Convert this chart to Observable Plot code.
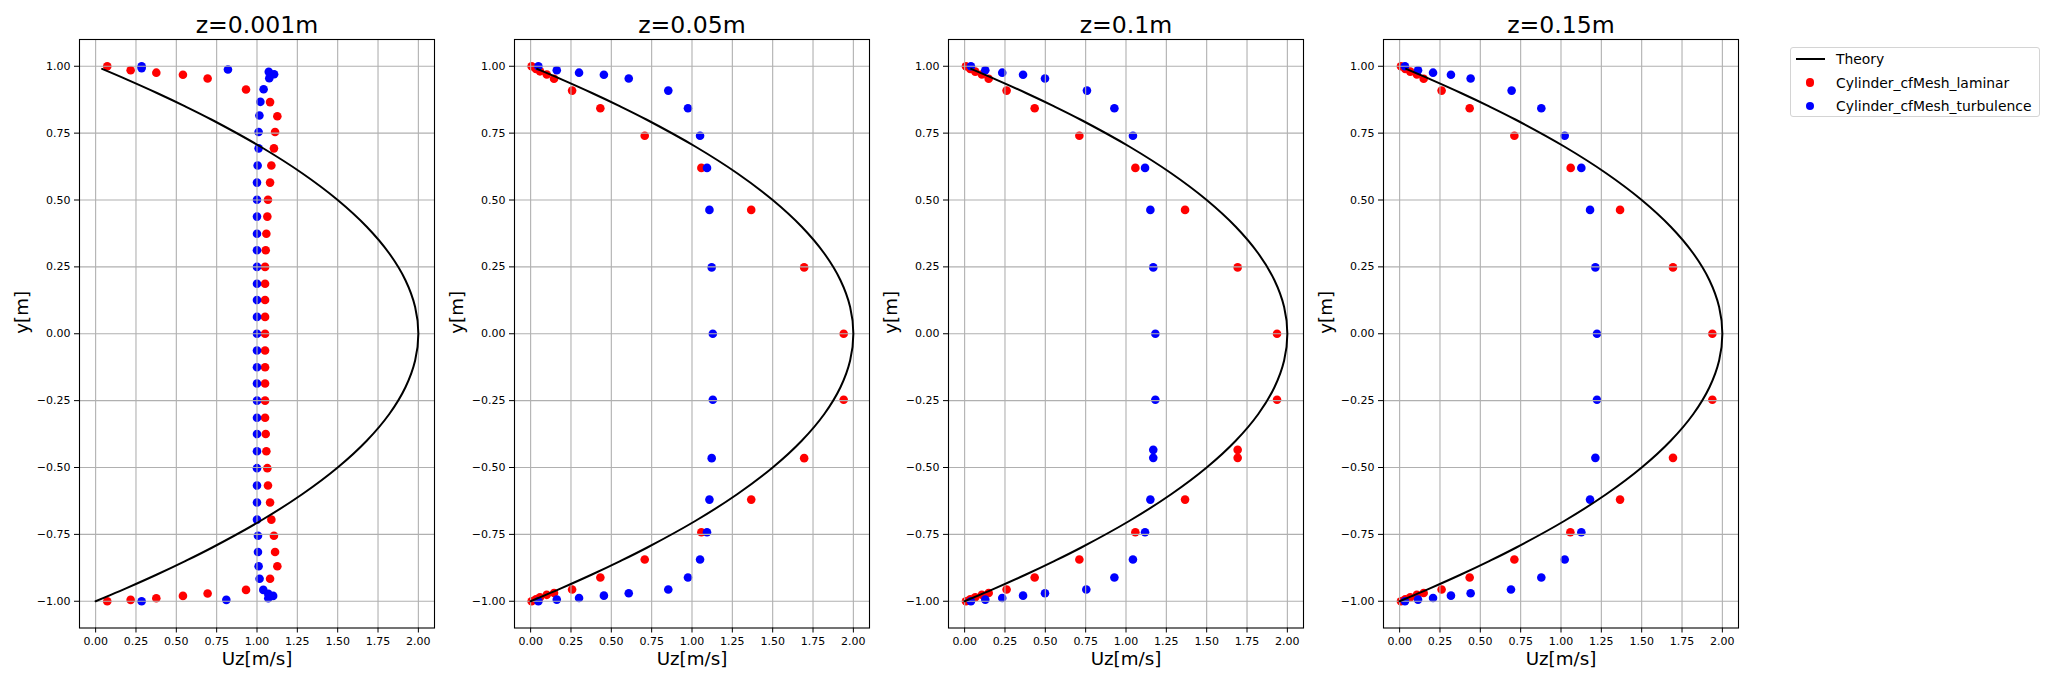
<!DOCTYPE html>
<html><head><meta charset="utf-8">
<script src="https://cdn.jsdelivr.net/npm/d3@7"></script>
<script src="https://cdn.jsdelivr.net/npm/@observablehq/plot@0.6"></script>
<style>
body{margin:0;background:#fff;}
#fig{position:relative;width:2048px;height:683px;font-family:"DejaVu Sans",sans-serif;background:#fff;overflow:hidden;}
.panel{position:absolute;top:0;}
#legend{position:absolute;left:1790px;top:47px;width:250px;height:70px;border:1px solid #d4d4d4;border-radius:3px;box-sizing:border-box;background:#fff;font-size:13.9px;color:#000;}
#legend .ln{position:absolute;left:5px;top:10px;width:29px;height:2px;background:#000;}
#legend .dt{position:absolute;width:8.6px;height:8.6px;border-radius:50%;left:14.7px;}
#legend .tx{position:absolute;left:45px;line-height:16px;white-space:nowrap;}
</style></head><body>
<div id="fig"></div>
<script>
const titles = ["z=0.001m", "z=0.05m", "z=0.1m", "z=0.15m"];
const seriesNames = ["Theory", "Cylinder_cfMesh_laminar", "Cylinder_cfMesh_turbulence"];
const xTicks = [0, 0.25, 0.5, 0.75, 1.0, 1.25, 1.5, 1.75, 2.0];
const yTicks = [-1.0, -0.75, -0.5, -0.25, 0, 0.25, 0.5, 0.75, 1.0];

// Theory profile
const theoryY = [-1, -0.98, -0.95, -0.9, -0.85, -0.8, -0.7, -0.6, -0.5, -0.4, -0.3, -0.2, -0.1, 0, 0.1, 0.2, 0.3, 0.4, 0.5, 0.6, 0.7, 0.8, 0.85, 0.9, 0.95, 0.99];
const theoryU = [0, 0.079, 0.195, 0.38, 0.555, 0.72, 1.02, 1.28, 1.5, 1.68, 1.82, 1.92, 1.98, 2.0, 1.98, 1.92, 1.82, 1.68, 1.5, 1.28, 1.02, 0.72, 0.555, 0.38, 0.195, 0.04];

// z = 0.001 m
const p1LamY = [1.0, 0.985, 0.976, 0.968, 0.954, 0.913, 0.866, 0.813, 0.754, 0.693, 0.629, 0.565, 0.501, 0.438, 0.374, 0.312, 0.25, 0.187, 0.126, 0.063, 0,
  -0.0625, -0.125, -0.186, -0.25, -0.314, -0.375, -0.439, -0.5025, -0.5675, -0.631, -0.695, -0.755, -0.816, -0.869, -0.916, -0.9575, -0.971, -0.98, -0.989, -0.995, -1.0];
const p1LamU = [0.072, 0.217, 0.376, 0.541, 0.694, 0.932, 1.081, 1.126, 1.112, 1.105, 1.089, 1.081, 1.068, 1.064, 1.058, 1.054, 1.05, 1.05, 1.05, 1.05, 1.05,
  1.05, 1.05, 1.05, 1.05, 1.05, 1.054, 1.058, 1.064, 1.068, 1.081, 1.089, 1.105, 1.112, 1.126, 1.081, 0.932, 0.694, 0.541, 0.376, 0.217, 0.072];
const p1TurY = [1.0, 0.993, 0.988, 0.979, 0.970, 0.955, 0.914, 0.867, 0.816, 0.754, 0.693, 0.629, 0.565, 0.501, 0.438, 0.374, 0.312, 0.25, 0.187, 0.126, 0.063, 0,
  -0.0625, -0.125, -0.186, -0.25, -0.314, -0.375, -0.439, -0.5025, -0.5675, -0.631, -0.695, -0.755, -0.816, -0.869, -0.916, -0.9575, -0.9725, -0.98, -0.989, -0.995, -1.0];
const p1TurU = [0.285, 0.285, 0.82, 1.073, 1.106, 1.076, 1.041, 1.021, 1.015, 1.010, 1.010, 1.004, 1.0, 1.0, 1.0, 1.0, 1.0, 1.0, 1.0, 1.0, 1.0, 1.0,
  1.0, 1.0, 1.0, 1.0, 1.0, 1.0, 1.0, 1.0, 1.0, 1.0, 1.0, 1.006, 1.006, 1.01, 1.016, 1.039, 1.07, 1.1, 1.07, 0.81, 0.285];

// z = 0.05 m
const p2LamY = [1.0, 0.99, 0.981, 0.969, 0.953, 0.909, 0.843, 0.74, 0.62, 0.463, 0.248, 0,
  -0.247, -0.465, -0.62, -0.742, -0.844, -0.911, -0.956, -0.969, -0.976, -0.985, -0.993, -1.0];
const p2LamU = [0.006, 0.033, 0.058, 0.1, 0.145, 0.257, 0.432, 0.707, 1.058, 1.367, 1.695, 1.94,
  1.94, 1.695, 1.367, 1.058, 0.707, 0.432, 0.257, 0.145, 0.1, 0.058, 0.033, 0.006];
const p2TurY = [1.0, 0.985, 0.976, 0.968, 0.954, 0.909, 0.843, 0.74, 0.62, 0.463, 0.248, 0,
  -0.247, -0.465, -0.62, -0.742, -0.844, -0.911, -0.956, -0.97, -0.979, -0.988, -0.994, -1.0];
const p2TurU = [0.048, 0.162, 0.30, 0.454, 0.608, 0.853, 0.975, 1.05, 1.093, 1.108, 1.122, 1.129,
  1.129, 1.122, 1.108, 1.093, 1.05, 0.975, 0.853, 0.608, 0.454, 0.30, 0.162, 0.048];

// z = 0.1 m
const p3LamY = [1.0, 0.99, 0.98, 0.969, 0.953, 0.909, 0.843, 0.74, 0.62, 0.463, 0.248, 0,
  -0.247, -0.434, -0.464, -0.62, -0.742, -0.844, -0.911, -0.956, -0.969, -0.976, -0.985, -0.993, -1.0];
const p3LamU = [0.008, 0.035, 0.066, 0.107, 0.149, 0.26, 0.434, 0.711, 1.058, 1.366, 1.692, 1.936,
  1.936, 1.692, 1.692, 1.366, 1.058, 0.711, 0.434, 0.26, 0.149, 0.107, 0.066, 0.035, 0.008];
const p3TurY = [1.0, 0.985, 0.976, 0.968, 0.954, 0.909, 0.843, 0.74, 0.62, 0.463, 0.248, 0,
  -0.247, -0.434, -0.464, -0.62, -0.742, -0.844, -0.911, -0.956, -0.97, -0.979, -0.988, -0.994, -1.0];
const p3TurU = [0.039, 0.128, 0.233, 0.362, 0.498, 0.758, 0.928, 1.043, 1.118, 1.151, 1.169, 1.182,
  1.182, 1.169, 1.169, 1.151, 1.118, 1.043, 0.928, 0.754, 0.498, 0.362, 0.233, 0.128, 0.039];

// z = 0.15 m
const p4LamY = [1.0, 0.99, 0.98, 0.969, 0.953, 0.909, 0.843, 0.74, 0.62, 0.463, 0.248, 0,
  -0.247, -0.464, -0.62, -0.742, -0.844, -0.911, -0.956, -0.969, -0.976, -0.985, -0.993, -1.0];
const p4LamU = [0.008, 0.035, 0.066, 0.107, 0.149, 0.26, 0.434, 0.711, 1.06, 1.366, 1.694, 1.938,
  1.938, 1.694, 1.366, 1.058, 0.711, 0.434, 0.26, 0.149, 0.107, 0.066, 0.035, 0.008];
const p4TurY = [1.0, 0.985, 0.976, 0.968, 0.954, 0.909, 0.843, 0.74, 0.62, 0.463, 0.248, 0,
  -0.247, -0.464, -0.62, -0.742, -0.844, -0.911, -0.956, -0.97, -0.979, -0.988, -0.994, -1.0];
const p4TurU = [0.033, 0.114, 0.207, 0.318, 0.44, 0.694, 0.878, 1.023, 1.126, 1.18, 1.213, 1.223,
  1.223, 1.213, 1.18, 1.126, 1.023, 0.878, 0.69, 0.44, 0.318, 0.207, 0.114, 0.033];

const colors = ["#000000", "#ff0000", "#0000ff"];

const panels = [
  {title: titles[0], lamY: p1LamY, lamU: p1LamU, turY: p1TurY, turU: p1TurU},
  {title: titles[1], lamY: p2LamY, lamU: p2LamU, turY: p2TurY, turU: p2TurU},
  {title: titles[2], lamY: p3LamY, lamU: p3LamU, turY: p3TurY, turU: p3TurU},
  {title: titles[3], lamY: p4LamY, lamU: p4LamU, turY: p4TurY, turU: p4TurU}
];
const theory = theoryY.map((y, i) => ({y, u: theoryU[i]}));
const offsets = [0, 434.6, 869.2, 1303.8];
const fig = document.getElementById("fig");
const fmt = d3.format(".2f");

panels.forEach((p, k) => {
  const lam = p.lamY.map((y, i) => ({y, u: p.lamU[i]}));
  const tur = p.turY.map((y, i) => ({y, u: p.turU[i]}));
  const svg = Plot.plot({
    width: 435, height: 683,
    marginLeft: 79, marginRight: 1, marginTop: 39, marginBottom: 55.5,
    style: {fontFamily: "DejaVu Sans", fontSize: "11px", color: "#000", background: "transparent", overflow: "visible"},
    x: {domain: [-0.1, 2.1], label: null},
    y: {domain: [-1.1, 1.1], label: null},
    marks: [
      Plot.dot(lam, {x: "u", y: "y", fill: colors[1], r: 4.3}),
      Plot.dot(tur, {x: "u", y: "y", fill: colors[2], r: 4.3}),
      Plot.gridX({ticks: xTicks, stroke: "#b0b0b0", strokeOpacity: 1, strokeWidth: 1.1}),
      Plot.gridY({ticks: yTicks, stroke: "#b0b0b0", strokeOpacity: 1, strokeWidth: 1.1}),
      Plot.line(theory, {x: "u", y: "y", stroke: colors[0], strokeWidth: 2, curve: "catmull-rom"}),
      Plot.frame({stroke: "#000", strokeWidth: 1.1}),
      Plot.axisX({ticks: xTicks, tickFormat: fmt, tickSize: 5, tickPadding: 4, label: null, fontSize: 11}),
      Plot.axisY({ticks: yTicks, tickFormat: fmt, tickSize: 5, tickPadding: 4, label: null, fontSize: 11}),
      Plot.text([p.title], {text: d => d, frameAnchor: "top", lineAnchor: "bottom", dy: -7, fontSize: 23.6}),
      Plot.text(["Uz[m/s]"], {text: d => d, frameAnchor: "bottom", lineAnchor: "bottom", dy: 37, fontSize: 18.3}),
      Plot.text(["y[m]"], {text: d => d, frameAnchor: "left", lineAnchor: "middle", rotate: -90, dx: -57, fontSize: 18.3})
    ]
  });
  svg.classList.add("panel");
  svg.style.left = offsets[k] + "px";
  fig.appendChild(svg);
});

// Legend
const legend = document.createElement("div");
legend.id = "legend";
legend.innerHTML =
  `<div class="ln"></div><div class="tx" style="top:3px">${seriesNames[0]}</div>` +
  `<div class="dt" style="top:30.2px;background:${colors[1]}"></div><div class="tx" style="top:26.5px">${seriesNames[1]}</div>` +
  `<div class="dt" style="top:53.7px;background:${colors[2]}"></div><div class="tx" style="top:50px">${seriesNames[2]}</div>`;
fig.appendChild(legend);
</script>
</body></html>
